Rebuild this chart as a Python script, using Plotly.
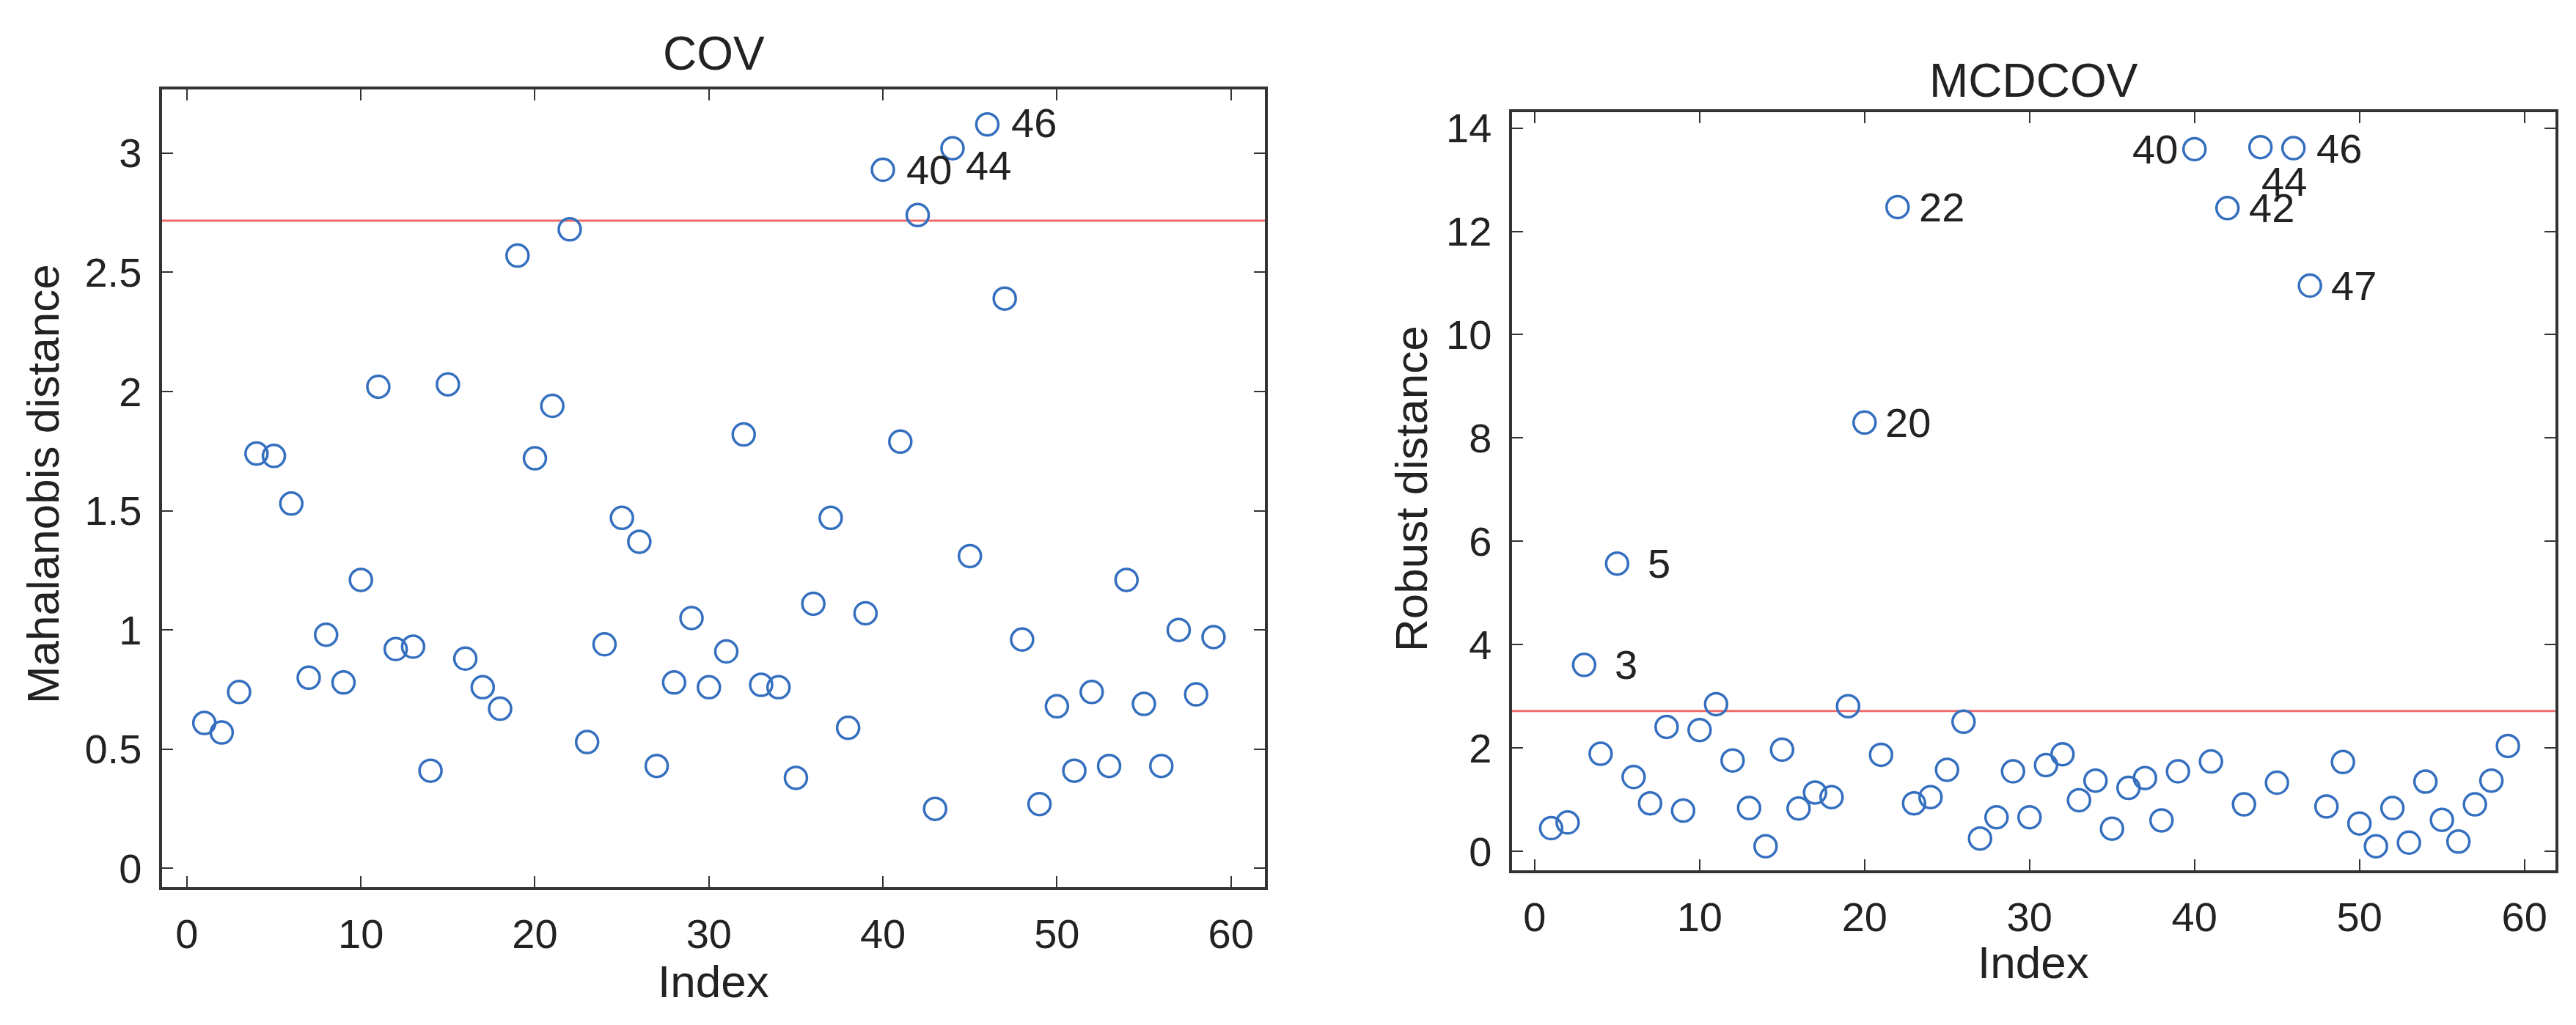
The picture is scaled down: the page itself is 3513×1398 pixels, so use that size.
"""
COV vs MCDCOV distance plots

Mahalanobis distance (classical covariance) and robust distance (MCD)
for each observation, with the chi-square cutoff line.
"""

import plotly.graph_objects as go

# ---- data -------------------------------------------------------------
index = list(range(1, 60))

cov_dist = [
    0.61, 0.57, 0.74, 1.74, 1.73, 1.53, 0.80, 0.98, 0.78, 1.21,
    2.02, 0.92, 0.93, 0.41, 2.03, 0.88, 0.76, 0.67, 2.57, 1.72,
    1.94, 2.68, 0.53, 0.94, 1.47, 1.37, 0.43, 0.78, 1.05, 0.76,
    0.91, 1.82, 0.77, 0.76, 0.38, 1.11, 1.47, 0.59, 1.07, 2.93,
    1.79, 2.74, 0.25, 3.02, 1.31, 3.12, 2.39, 0.96, 0.27, 0.68,
    0.41, 0.74, 0.43, 1.21, 0.69, 0.43, 1.00, 0.73, 0.97,
]

mcd_dist = [
    0.45, 0.56, 3.61, 1.89, 5.57, 1.44, 0.93, 2.41, 0.79, 2.35,
    2.85, 1.76, 0.84, 0.10, 1.97, 0.83, 1.14, 1.05, 2.81, 8.30,
    1.87, 12.47, 0.93, 1.05, 1.58, 2.51, 0.25, 0.66, 1.55, 0.66,
    1.67, 1.88, 0.99, 1.37, 0.44, 1.23, 1.42, 0.60, 1.55, 13.59,
    1.74, 12.45, 0.91, 13.63, 1.33, 13.61, 10.95, 0.87, 1.73, 0.54,
    0.10, 0.84, 0.17, 1.35, 0.61, 0.19, 0.91, 1.37, 2.04,
]

cutoff = 2.716  # sqrt(chi2_2(0.975))

cov_labeled = [40, 44, 46]
mcd_labeled = [3, 5, 20, 22, 40, 42, 44, 46, 47]

x_ticks = [0, 10, 20, 30, 40, 50, 60]
cov_ticks = [0, 0.5, 1, 1.5, 2, 2.5, 3]
mcd_ticks = [0, 2, 4, 6, 8, 10, 12, 14]

# ---- style ------------------------------------------------------------
FONT = "Liberation Sans, Arial, Helvetica, sans-serif"
TEXT = "#222222"
FRAME = "#333333"
BLUE = "#356fbf"
RED = "#f06a6a"

# label placement (pixel shift, anchor) for readability
COV_LABEL_POS = {40: (30, 0, "left"), 44: (16, -23, "left"), 46: (31, 2, "left")}
MCD_LABEL_POS = {
    3: (40, 0, "left"), 5: (40, 0, "left"), 20: (26, 0, "left"),
    22: (27, 0, "left"), 40: (-21, 0, "right"), 42: (27, 0, "left"),
    44: (-1, -47, "left"), 46: (29, 0, "left"), 47: (27, 0, "left"),
}

W, H = 3513, 1398


def _axis(domain, rng, ticks):
    return dict(
        domain=domain,
        range=rng,
        tickvals=ticks,
        ticks="inside",
        ticklen=15,
        tickwidth=2,
        tickcolor=FRAME,
        showline=True,
        linecolor=FRAME,
        linewidth=4,
        mirror="ticks",
        showgrid=False,
        zeroline=False,
        tickfont=dict(family=FONT, size=56, color=TEXT),
        ticklabelstandoff=12,
    )


def _labels(xref, yref, values, labeled, pos):
    out = []
    for i in labeled:
        dx, dy, anchor = pos[i]
        out.append(dict(
            x=i, y=values[i - 1], xref=xref, yref=yref,
            text=str(i), showarrow=False,
            xanchor=anchor, yanchor="middle",
            xshift=dx, yshift=dy,
            font=dict(family=FONT, size=56, color=TEXT),
        ))
    return out


def _paper_text(text, x, y, size, angle=0):
    return dict(
        x=x / W, y=1 - y / H, xref="paper", yref="paper",
        text=text, showarrow=False, textangle=angle,
        xanchor="center", yanchor="middle",
        font=dict(family=FONT, size=size, color=TEXT),
    )


fig = go.Figure()

marker = dict(symbol="circle-open", size=30, color=BLUE, line=dict(width=3.5, color=BLUE))

fig.add_trace(go.Scatter(x=index, y=cov_dist, mode="markers", marker=marker,
                         xaxis="x", yaxis="y", showlegend=False))
fig.add_trace(go.Scatter(x=index, y=mcd_dist, mode="markers", marker=marker,
                         xaxis="x2", yaxis="y2", showlegend=False))

# cutoff lines
fig.add_shape(type="line", xref="x domain", yref="y", x0=0, x1=1, y0=cutoff, y1=cutoff,
              line=dict(color=RED, width=3), layer="below")
fig.add_shape(type="line", xref="x2 domain", yref="y2", x0=0, x1=1, y0=cutoff, y1=cutoff,
              line=dict(color=RED, width=3), layer="below")

annotations = []
annotations += _labels("x", "y", cov_dist, cov_labeled, COV_LABEL_POS)
annotations += _labels("x2", "y2", mcd_dist, mcd_labeled, MCD_LABEL_POS)
annotations += [
    _paper_text("COV", 965, 57, 64),
    _paper_text("MCDCOV", 2765, 94, 64),
    _paper_text("Index", 965, 1336, 62),
    _paper_text("Index", 2765, 1310, 62),
    _paper_text("Mahalanobis distance", 50, 650, 62, -90),
    _paper_text("Robust distance", 1917, 657, 62, -90),
]

fig.update_layout(
    width=W,
    height=H,
    paper_bgcolor="white",
    plot_bgcolor="white",
    margin=dict(l=0, r=0, t=0, b=0),
    xaxis=_axis([212.5 / W, 1717.4 / W], [-1.45, 61.97], x_ticks),
    yaxis=_axis([1 - 1205.8 / H, 1 - 105.7 / H], [-0.078, 3.268], cov_ticks),
    xaxis2=_axis([2053.6 / W, 3476.7 / W], [-1.39, 61.87], x_ticks) | dict(anchor="y2"),
    yaxis2=_axis([1 - 1182.3 / H, 1 - 137.2 / H], [-0.36, 14.31], mcd_ticks) | dict(anchor="x2"),
    annotations=annotations,
    showlegend=False,
)

fig.write_html("out.html")
